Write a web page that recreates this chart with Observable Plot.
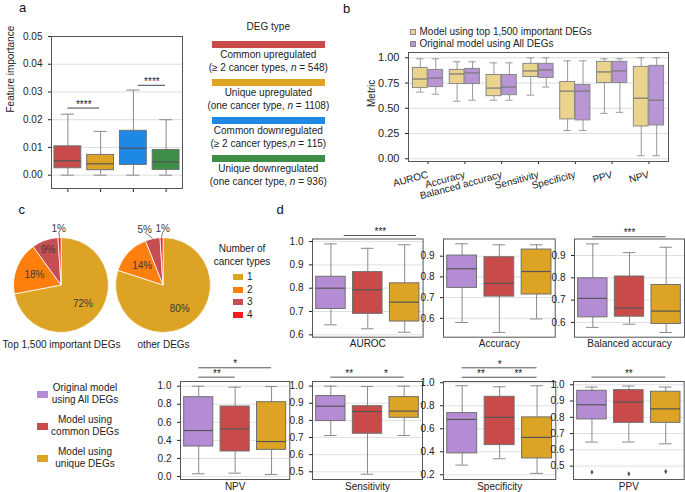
<!DOCTYPE html>
<html><head><meta charset="utf-8">
<script src="https://cdn.jsdelivr.net/npm/d3@7"></script>
<script src="https://cdn.jsdelivr.net/npm/@observablehq/plot@0.6"></script>
<style>
html,body{margin:0;padding:0;background:#fff;overflow:hidden;}
body{font-family:"Liberation Sans",Arial,sans-serif;color:#222;}
#root{position:relative;width:685px;height:492px;overflow:hidden;background:#fff;}
</style></head>
<body><div id="root"></div>
<script>
// ---------- Panel a data ----------
const aTypes = ["Common upregulated","Unique upregulated","Common downregulated","Unique downregulated"];
const aNotes = ["(≥ 2 cancer types, <i>n</i> = 548)","(one cancer type, <i>n</i> = 1108)","(≥ 2 cancer types,<i>n</i> = 115)","(one cancer type, <i>n</i> = 936)"];
const aColors = ["#C84B4A","#DCA324","#1E88E5","#3E8E48"];
const aLow  = [0, 0, 0, 0];
const aQ1   = [0.0025, 0.0018, 0.0037, 0.0019];
const aMed  = [0.0052, 0.0041, 0.0097, 0.0048];
const aQ3   = [0.0104, 0.0073, 0.0160, 0.0091];
const aHigh = [0.0220, 0.0158, 0.0307, 0.0200];
const aTicks = [0, 0.01, 0.02, 0.03, 0.04, 0.05];
const aSigX1 = [0, 2.15];
const aSigX2 = [0.97, 2.98];
const aSigY  = [0.0242, 0.0324];
const aSigLabel = ["****","****"];

// ---------- Panel b data ----------
const bMetrics = ["AUROC","Accuracy","Balanced accuracy","Sensitivity","Specificity","PPV","NPV"];
const bModels = ["Model using top 1,500 important DEGs","Original model using All DEGs"];
const bColors = ["#EAD38C","#B895D3"];
const bTopLow  = [0.66,0.57,0.58,0.63,0.28,0.45,0.03];
const bTopQ1   = [0.70,0.74,0.62,0.81,0.39,0.75,0.32];
const bTopMed  = [0.79,0.84,0.70,0.87,0.67,0.86,0.60];
const bTopQ3   = [0.90,0.88,0.83,0.94,0.76,0.96,0.91];
const bTopHigh = [0.99,0.96,0.95,1.00,0.97,0.99,1.00];
const bAllLow  = [0.64,0.58,0.58,0.71,0.28,0.46,0.03];
const bAllQ1   = [0.71,0.74,0.63,0.80,0.38,0.75,0.33];
const bAllMed  = [0.80,0.85,0.71,0.88,0.67,0.87,0.58];
const bAllQ3   = [0.88,0.89,0.83,0.94,0.73,0.96,0.92];
const bAllHigh = [0.99,0.96,0.95,1.00,0.97,0.99,1.00];
const bTicks = [0, 0.25, 0.5, 0.75, 1.0];

// ---------- Panel c data ----------
const cGroups = ["Top 1,500 important DEGs","other DEGs"];
const cLevels = ["1","2","3","4"];
const cColors = ["#DCA324","#FF7F0E","#C44E52","#FF1A1A"];
const cTopPct = [72, 18, 9, 1];
const cOtherPct = [80, 14, 5, 1];

// ---------- Panel d data ----------
const dMetrics = ["AUROC","Accuracy","Balanced accuracy","NPV","Sensitivity","Specificity","PPV"];
const dModels = ["Original model using All DEGs","Model using common DEGs","Model using unique DEGs"];
const dColors = ["#B48CD4","#C84B4A","#DCA324"];
const dLow  = [[0.643,0.626,0.611],[0.580,0.532,0.597],[0.578,0.592,0.555],[0.030,0.037,0.022],[0.712,0.486,0.712],[0.284,0.339,0.212],[0.648,0.648,0.637]];
const dQ1   = [[0.711,0.690,0.657],[0.747,0.705,0.715],[0.623,0.626,0.593],[0.332,0.277,0.295],[0.796,0.722,0.815],[0.386,0.458,0.342],[0.787,0.766,0.766]];
const dMed  = [[0.800,0.793,0.740],[0.839,0.769,0.826],[0.708,0.665,0.651],[0.509,0.528,0.387],[0.883,0.852,0.854],[0.681,0.699,0.525],[0.877,0.893,0.852]];
const dQ3   = [[0.849,0.869,0.821],[0.903,0.895,0.932],[0.798,0.806,0.768],[0.878,0.775,0.823],[0.942,0.883,0.936],[0.736,0.878,0.699],[0.963,0.967,0.957]];
const dHigh = [[0.990,0.971,0.986],[0.960,0.955,0.955],[0.952,0.913,0.937],[1.000,0.989,0.996],[1.000,0.998,1.000],[0.974,0.965,0.974],[0.986,0.992,0.986]];
const dPpvOutliers = [0.463, 0.453, 0.467];
const dTicks = [[0.6,0.7,0.8,0.9,1.0],[0.6,0.7,0.8,0.9],[0.6,0.7,0.8,0.9],[0,0.2,0.4,0.6,0.8,1.0],[0.5,0.6,0.7,0.8,0.9,1.0],[0.2,0.4,0.6,0.8,1.0],[0.5,0.6,0.7,0.8,0.9,1.0]];
const dDomains = [[0.59,1.011],[0.509,0.983],[0.534,0.974],[-0.033,1.052],[0.455,1.027],[0.159,1.011],[0.418,1.02]];
const dSigMetric = ["AUROC","Balanced accuracy","NPV","NPV","Sensitivity","Sensitivity","Specificity","Specificity","Specificity","PPV"];
const dSigX1 = [0.36,0,0,0,0,1,0,0,1,0];
const dSigX2 = [2.32,2,1,2,1,2,2,1,2,2];
const dSigY  = [1.026,0.984,1.10,1.204,1.0525,1.0525,1.13,1.048,1.048,1.047];
const dSigLabel = ["***","***","**","*","**","*","*","**","**","**"];

// ---------- helpers ----------
const root = document.getElementById("root");
const FONT = "'Liberation Sans', Arial, sans-serif";
const STYLE = `background:transparent;overflow:visible;font-family:${FONT};font-size:10px;color:#222;`;

function place(node, left, top, w, h) {
  const div = document.createElement("div");
  div.style.cssText = `position:absolute;left:${left}px;top:${top}px;width:${w}px;height:${h}px;`;
  div.appendChild(node);
  root.appendChild(div);
}
function txt(html, x, y, {size = 10, anchor = "middle", color = "#222"} = {}) {
  const d = document.createElement("div");
  d.innerHTML = html;
  const tx = anchor === "middle" ? "-50%" : anchor === "end" ? "-100%" : "0";
  d.style.cssText = `position:absolute;left:${x}px;top:${y}px;transform:translate(${tx},-50%);font-size:${size}px;line-height:1.15;white-space:nowrap;color:${color};font-family:${FONT};`;
  root.appendChild(d);
}
function swatch(color, x, y, w, h, border) {
  const d = document.createElement("div");
  d.style.cssText = `position:absolute;left:${x}px;top:${y}px;width:${w}px;height:${h}px;background:${color};box-sizing:border-box;${border ? "border:0.8px solid " + border + ";" : ""}`;
  root.appendChild(d);
}
function boxMarks(rows, {x, half, cap, fill, whisker = "#8a8a8a", edge = "#707070", median = "#555"}) {
  return [
    Plot.ruleX(rows, {x, y1: "low", y2: "q1", stroke: whisker}),
    Plot.ruleX(rows, {x, y1: "q3", y2: "high", stroke: whisker}),
    Plot.ruleY(rows, {y: "low", x1: d => x(d) - cap, x2: d => x(d) + cap, stroke: whisker}),
    Plot.ruleY(rows, {y: "high", x1: d => x(d) - cap, x2: d => x(d) + cap, stroke: whisker}),
    Plot.rect(rows, {x1: d => x(d) - half, x2: d => x(d) + half, y1: "q1", y2: "q3", fill, stroke: edge, strokeWidth: 1}),
    Plot.ruleY(rows, {y: "med", x1: d => x(d) - half, x2: d => x(d) + half, stroke: median, strokeWidth: 1.2})
  ];
}

// ---------- panel letters ----------
txt("a", 22.5, 8, {size: 13, color: "#111"});
txt("b", 346.7, 8.5, {size: 13, color: "#111"});
txt("c", 21.7, 210, {size: 13, color: "#111"});
txt("d", 280, 209.5, {size: 13, color: "#111"});

// ---------- Panel a ----------
const aRows = aTypes.map((type, i) => ({i, type, low: aLow[i], q1: aQ1[i], med: aMed[i], q3: aQ3[i], high: aHigh[i]}));
const aSig = aSigX1.map((x1, i) => ({x1, x2: aSigX2[i], y: aSigY[i], label: aSigLabel[i]}));
const chartA = Plot.plot({
  width: 200, height: 200, marginLeft: 51, marginRight: 18, marginTop: 36, marginBottom: 12,
  style: STYLE,
  x: {domain: [-0.5, 3.5]},
  y: {domain: [-0.0048, 0.05]},
  color: {domain: aTypes, range: aColors},
  marks: [
    Plot.gridY(aTicks, {stroke: "#dddddd", strokeOpacity: 1}),
    Plot.axisY(aTicks, {tickFormat: ".2f", tickSize: 3, label: null, fontSize: 10}),
    Plot.axisX(aRows.map(d => d.i), {tickFormat: () => "", tickSize: 4, label: null}),
    ...boxMarks(aRows, {x: d => d.i, half: 0.41, cap: 0.2, fill: "type"}),
    Plot.frame({stroke: "#555"}),
    Plot.ruleY(aSig, {y: "y", x1: "x1", x2: "x2", stroke: "#444"}),
    Plot.text(aSig, {x: d => (d.x1 + d.x2) / 2, y: "y", text: "label", dy: -3.5, lineAnchor: "middle", fontSize: 10}),
    Plot.text(["Feature importance"], {frameAnchor: "left", dx: -41, rotate: -90, text: d => d, fontSize: 10})
  ]
});
place(chartA, 0, 0, 200, 200);

// DEG type legend
txt("DEG type", 268.3, 27);
aTypes.forEach((t, i) => {
  const top = 41 + i * 38;
  swatch(aColors[i], 211.7, top, 113.3, 7);
  txt(t, 268.3, top + 13.5);
  txt(aNotes[i], 268.3, top + 26.5);
});

// ---------- Panel b ----------
const bRows = [];
bMetrics.forEach((m, i) => {
  bRows.push({i, off: -0.21, model: bModels[0], low: bTopLow[i], q1: bTopQ1[i], med: bTopMed[i], q3: bTopQ3[i], high: bTopHigh[i]});
  bRows.push({i, off: 0.21, model: bModels[1], low: bAllLow[i], q1: bAllQ1[i], med: bAllMed[i], q3: bAllQ3[i], high: bAllHigh[i]});
});
const chartB = Plot.plot({
  width: 345, height: 210, marginLeft: 68, marginRight: 17, marginTop: 52, marginBottom: 49,
  style: STYLE,
  x: {domain: [-0.53, 6.53]},
  y: {domain: [-0.027, 1.0525]},
  color: {domain: bModels, range: bColors},
  marks: [
    Plot.gridY(bTicks, {stroke: "#dddddd", strokeOpacity: 1}),
    Plot.axisY(bTicks, {tickFormat: ".2f", tickSize: 3, label: null, fontSize: 11}),
    Plot.axisX(bMetrics.map((m, i) => i), {tickFormat: i => bMetrics[i], tickRotate: -15, tickSize: 3, label: null, fontSize: 10}),
    ...boxMarks(bRows, {x: d => d.i + d.off, half: 0.2, cap: 0.1, fill: "model", whisker: "#999", edge: "#888", median: "#777"}),
    Plot.frame({stroke: "#555"}),
    Plot.text(["Metric"], {frameAnchor: "left", dx: -36.5, rotate: -90, text: d => d, fontSize: 10})
  ]
});
place(chartB, 340, 0, 345, 210);
bModels.forEach((m, i) => {
  swatch(bColors[i], 409.5, 29 + i * 11.5, 6, 6, "#888");
  txt(m, 419.5, 32 + i * 11.5, {anchor: "start"});
});

// ---------- Panel c ----------
const cColor = Plot.scale({color: {type: "ordinal", domain: cLevels, range: cColors}});
function pieChart(pcts, group) {
  const rows = cLevels.map((level, i) => ({level, pct: pcts[i]}));
  return Plot.plot({
    width: 110, height: 130, marginLeft: 7.5, marginRight: 7.5, marginTop: 12.5, marginBottom: 22.5,
    style: STYLE,
    marks: [
      (index, scales, values, dims) => {
        const fw = dims.width - dims.marginLeft - dims.marginRight;
        const fh = dims.height - dims.marginTop - dims.marginBottom;
        const cx = dims.marginLeft + fw / 2, cy = dims.marginTop + fh / 2;
        const r = Math.min(fw, fh) / 2;
        const g = d3.create("svg:g").attr("transform", `translate(${cx},${cy})`);
        const arcs = d3.pie().value(d => d.pct).sort(null)(rows);
        const arc = d3.arc().innerRadius(0).outerRadius(r);
        g.selectAll("path").data(arcs).join("path")
          .attr("d", arc)
          .attr("fill", d => cColor.apply(d.data.level))
          .attr("stroke", "#fff").attr("stroke-width", 0.8);
        const labels = arcs.map(a => {
          const mid = (a.startAngle + a.endAngle) / 2;
          const p = a.data.pct;
          const outside = p < 8;
          const rr = p >= 10 ? 0.6 * r : outside ? 1.2 * r : 0.8 * r;
          return {mid, p, outside, x: Math.sin(mid) * rr * (outside ? 1.3 : 1), y: -Math.cos(mid) * rr};
        });
        // keep neighbouring outside labels apart
        const outs = labels.filter(l => l.outside).sort((u, v) => u.x - v.x);
        for (let i = 1; i < outs.length; i++) {
          if (outs[i].x - outs[i - 1].x < 17) {
            const c = (outs[i].x + outs[i - 1].x) / 2;
            outs[i - 1].x = c - 9; outs[i].x = c + 9;
          }
        }
        for (const l of labels) {
          if (l.outside) {
            g.append("line")
              .attr("x1", Math.sin(l.mid) * r * 1.01).attr("y1", -Math.cos(l.mid) * r * 1.01)
              .attr("x2", l.x * 0.93).attr("y2", l.y * 0.93)
              .attr("stroke", "#555").attr("stroke-width", 0.8);
          }
          g.append("text").attr("x", l.x).attr("y", l.y).attr("dy", "0.35em")
            .attr("text-anchor", "middle").attr("font-size", 10).attr("fill", "#3a3a3a")
            .text(`${l.p}%`);
        }
        return g.node();
      },
      Plot.text([group], {frameAnchor: "bottom", dy: 15.2, text: d => d, fontSize: 10})
    ]
  });
}
place(pieChart(cTopPct, cGroups[0]), 6, 225, 110, 130);
place(pieChart(cOtherPct, cGroups[1]), 108, 225, 110, 130);
txt("Number of", 242, 249);
txt("cancer types", 242, 261.7);
cLevels.forEach((l, i) => {
  const cy = 276.7 + i * 12.8;
  swatch(cColors[i], 232.7, cy - 3, 10, 6);
  txt(l, 247, cy, {anchor: "start"});
});

// ---------- Panel d ----------
const dFrames = [[311.7,422.3,0],[443.3,555,0],[574,684,0],[180,289.3,1],[311.7,421.7,1],[442.7,555,1],[573.3,684,1]];
const dRowLayout = [{top: 215, frameTop: 238.5, frameBottom: 336.7, bottom: 350}, {top: 350, frameTop: 381, frameBottom: 479, bottom: 492}];
dMetrics.forEach((m, k) => {
  const rows = dModels.map((model, j) => ({j, model, low: dLow[k][j], q1: dQ1[k][j], med: dMed[k][j], q3: dQ3[k][j], high: dHigh[k][j]}));
  const sig = dSigMetric.map((sm, s) => ({sm, x1: dSigX1[s], x2: dSigX2[s], y: dSigY[s], label: dSigLabel[s]})).filter(d => d.sm === m);
  const [fl, fr, row] = dFrames[k];
  const L = dRowLayout[row];
  const ml = 30, mr = 1;
  const w = (fr - fl) + ml + mr;
  const h = L.bottom - L.top;
  const marks = [
    Plot.gridY(dTicks[k], {stroke: "#e0e0e0", strokeOpacity: 1}),
    Plot.axisY(dTicks[k], {tickFormat: ".1f", tickSize: 3, label: null, fontSize: 10}),
    ...boxMarks(rows, {x: d => d.j, half: 0.4, cap: 0.17, fill: "model"}),
    Plot.frame({stroke: "#555"}),
    Plot.ruleY(sig, {y: "y", x1: "x1", x2: "x2", stroke: "#555"}),
    Plot.text(sig, {x: d => (d.x1 + d.x2) / 2, y: "y", text: "label", dy: -3.5, lineAnchor: "middle", fontSize: 10}),
    Plot.text([m], {frameAnchor: "bottom", dy: row === 0 ? 6.8 : 7.7, lineAnchor: "middle", text: d => d, fontSize: 10})
  ];
  if (m === "PPV") {
    marks.push(Plot.dot(dPpvOutliers.map((v, j) => ({j, v})), {x: "j", y: "v", symbol: "diamond", r: 1.6, fill: "#555", stroke: "none"}));
  }
  const chart = Plot.plot({
    width: w, height: h, marginLeft: ml, marginRight: mr,
    marginTop: L.frameTop - L.top, marginBottom: L.bottom - L.frameBottom,
    style: STYLE,
    x: {domain: [-0.5, 2.5], axis: null},
    y: {domain: dDomains[k]},
    color: {domain: dModels, range: dColors},
    marks
  });
  place(chart, fl - ml, L.top, w, h);
});

// d legend
const dLegendLines = [["Original model","using All DEGs"],["Model using","common DEGs"],["Model using","unique DEGs"]];
dModels.forEach((m, i) => {
  const cy = 394 + i * 32;
  swatch(dColors[i], 36.7, cy - 3.5, 11, 7);
  txt(dLegendLines[i][0], 85, cy - 6);
  txt(dLegendLines[i][1], 85, cy + 6.2);
});
</script>
</body></html>
